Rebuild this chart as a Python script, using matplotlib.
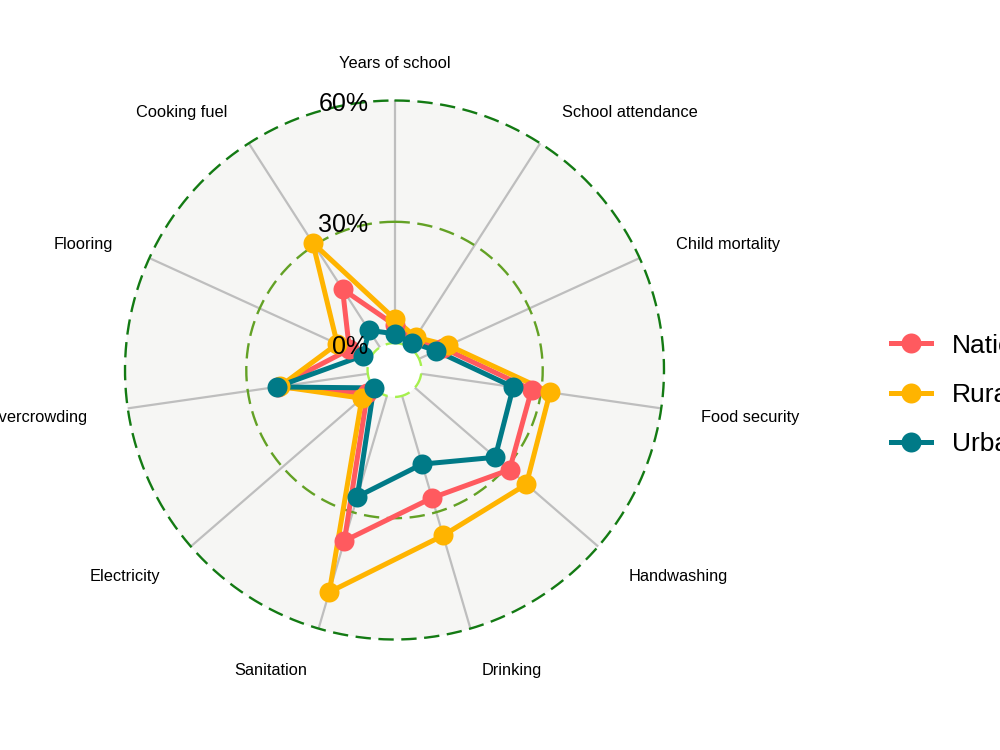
import numpy as np
import matplotlib
matplotlib.use("Agg")
import matplotlib.pyplot as plt
from matplotlib.lines import Line2D
from matplotlib.transforms import offset_copy

# ---- data ----
axes_labels = ["Years of school", "School attendance", "Child mortality", "Food security",
               "Handwashing", "Drinking", "Sanitation", "Electricity", "Overcrowding",
               "Flooring", "Cooking fuel"]
national = [0.045, 0.022, 0.065, 0.276, 0.310, 0.263, 0.374, 0.022, 0.225, 0.056, 0.171]
rural    = [0.060, 0.030, 0.080, 0.322, 0.365, 0.360, 0.506, 0.040, 0.220, 0.089, 0.307]
urban    = [0.023, 0.014, 0.047, 0.230, 0.263, 0.176, 0.260, 0.001, 0.228, 0.019, 0.050]
series_names = ["National", "Rural", "Urban"]
series_colors = ["#FF5A5F", "#FFB400", "#007A87"]
grid_values = [0.0, 0.3, 0.6]
grid_labels = ["0%", "30%", "60%"]

grid_min, grid_max = 0.0, 0.6
centre = grid_min - (grid_max - grid_min) / 9.0   # ggradar-style centre offset

def rad(v):
    return np.asarray(v, dtype=float) - centre

n = len(axes_labels)
theta = np.arange(n) * 2 * np.pi / n

def xy(vals):
    r = rad(vals)
    return r * np.sin(theta), r * np.cos(theta)

plt.rcParams['font.family'] = ['Liberation Sans', 'DejaVu Sans']

W, H = 1000, 750
fig = plt.figure(figsize=(W / 100, H / 100), dpi=100)
ax = fig.add_axes([0, 0, 1, 1])
ax.set_axis_off()

# mapping: centre at pixel (394.5, 370), outer radius 269.5 px
cx, cy, Rpx = 394.5, 370.0, 269.5
k = Rpx / rad(grid_max)
ax.set_xlim(-cx / k, (W - cx) / k)
ax.set_ylim(-(H - cy) / k, cy / k)
ax.set_aspect('auto')

t = np.linspace(0, 2 * np.pi, 400)
Rmax = rad(grid_max)
Rmin = rad(grid_min)
# background circle
ax.fill(Rmax * np.sin(t), Rmax * np.cos(t), color="#F6F6F4", zorder=0, lw=0)
ax.fill(Rmin * np.sin(t), Rmin * np.cos(t), color="#FFFFFF", zorder=0.5, lw=0)

# axis lines
for th in theta:
    ax.plot([Rmin * np.sin(th), Rmax * np.sin(th)], [Rmin * np.cos(th), Rmax * np.cos(th)],
            color="#BEBEBE", lw=1.6, zorder=1, solid_capstyle='butt')

# grid circles
grid_colors = ["#A6F04E", "#63A125", "#137A13"]
for gv, gc in zip(grid_values, grid_colors):
    rr = rad(gv)
    ax.plot(rr * np.sin(t), rr * np.cos(t), color=gc, lw=1.7,
            linestyle=(0, (6.5, 3.2)), zorder=2)

txt_tr = offset_copy(ax.transData, fig=fig, x=0, y=-3.5, units='dots')

# grid labels
for gv, gl in zip(grid_values, grid_labels):
    ax.text(-0.1 * (grid_max - centre) + 0.002, rad(gv), gl, ha='right', va='center',
            fontsize=18, color='black', zorder=10, transform=txt_tr)

# axis labels
off = 1.15
for lab, th in zip(axes_labels, theta):
    x = off * Rmax * np.sin(th)
    y = off * Rmax * np.cos(th)
    if abs(np.sin(th)) < 0.01:
        ha = 'center'
    elif x > 0:
        ha = 'left'
    else:
        ha = 'right'
    ax.text(x, y, lab, ha=ha, va='center', fontsize=11.8, color='black', zorder=10,
            transform=txt_tr)

# data lines then points
data = [national, rural, urban]
for vals, col in zip(data, series_colors):
    x, y = xy(vals)
    ax.plot(np.append(x, x[0]), np.append(y, y[0]), color=col, lw=3.6, zorder=3,
            solid_joinstyle='miter')
for vals, col in zip(data, series_colors):
    x, y = xy(vals)
    ax.plot(x, y, linestyle='none', marker='o', markersize=14.4, color=col, zorder=4,
            markeredgewidth=0)

handles = [Line2D([0], [0], color=c, lw=3.6, marker='o', markersize=14.4, markeredgewidth=0)
           for c in series_colors]
leg = ax.legend(handles, series_names, loc='center left',
                bbox_to_anchor=(891 / W, 1 - 395 / H), bbox_transform=fig.transFigure,
                frameon=False, fontsize=19, handlelength=1.5, handletextpad=0.8,
                labelspacing=0.96, borderaxespad=0, borderpad=0)

fig.savefig("out.png", dpi=100)
